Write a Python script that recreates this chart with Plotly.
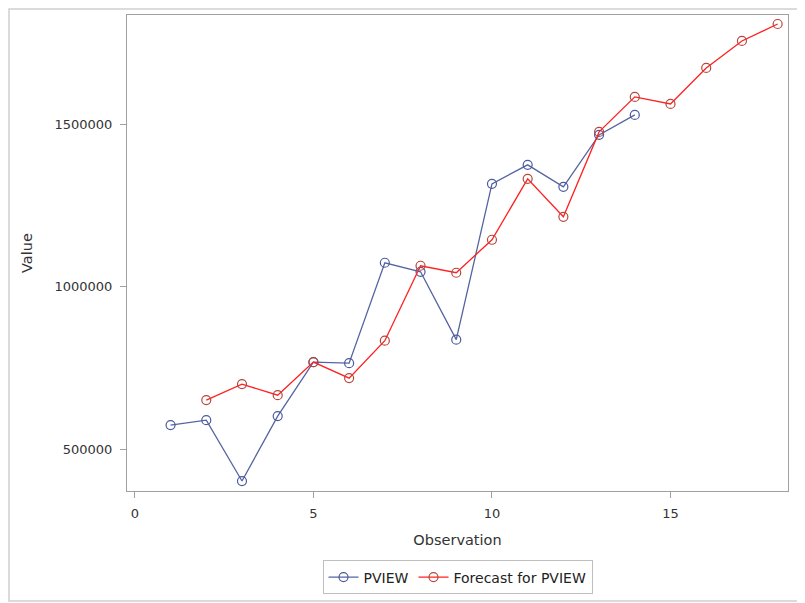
import plotly.graph_objects as go

obs_actual = list(range(1, 15))
pview = [574000, 589000, 401500, 601500, 767700, 764600, 1073800, 1046000,
         836900, 1316900, 1375400, 1307700, 1467700, 1529200]

obs_fc = list(range(2, 19))
forecast = [650800, 700000, 666000, 767700, 718500, 833800, 1064600, 1043000,
            1144600, 1332300, 1215400, 1476900, 1584600, 1563000, 1673800,
            1756900, 1809200]

x_ticks = [0, 5, 10, 15]
y_ticks = [500000, 1000000, 1500000]

font = "DejaVu Sans, Liberation Sans, sans-serif"

fig = go.Figure()
fig.add_trace(go.Scatter(
    x=obs_actual, y=pview, name="PVIEW", mode="lines+markers",
    line=dict(color="#5564A0", width=1.3),
    marker=dict(symbol="circle-open", size=9, color="#4A5A9E", line=dict(width=1.2)),
))
fig.add_trace(go.Scatter(
    x=obs_fc, y=forecast, name="Forecast for PVIEW", mode="lines+markers",
    line=dict(color="#FF2020", width=1.3),
    marker=dict(symbol="circle-open", size=9, color="#B5473C", line=dict(width=1.2)),
))

axis_common = dict(
    showgrid=False, zeroline=False, showline=True, mirror=True,
    linecolor="#A0A0A0", linewidth=1, ticks="outside", ticklen=6,
    tickcolor="#A0A0A0", tickfont=dict(family=font, size=13, color="#333333"),
)

# page has an 8px body margin, so the figure is offset by 8px
W, H = 797, 595
fig.update_layout(
    width=W, height=H,
    margin=dict(l=119, r=17, t=7, b=112),
    paper_bgcolor="white", plot_bgcolor="white",
    font=dict(family=font, size=12, color="#333333"),
    xaxis=dict(axis_common, range=[-0.22, 18.29], tickvals=x_ticks,
               ticklabelstandoff=4,
               title=dict(text="Observation", font=dict(size=14.5, color="#333333"), standoff=15)),
    yaxis=dict(axis_common, range=[370800, 1836900], tickvals=y_ticks,
               ticktext=[str(v) for v in y_ticks], ticklabelstandoff=5,
               title=dict(text="Value", font=dict(size=14.5, color="#333333"), standoff=18)),
    showlegend=True,
    legend=dict(orientation="h", x=0.5, xanchor="center", y=-0.146, yanchor="top",
                bordercolor="#BFBFBF", borderwidth=1, bgcolor="white",
                font=dict(family=font, size=14, color="#222222")),
    shapes=[dict(type="rect", xref="paper", yref="paper",
                 x0=-119 / 661 + 1 / 661, x1=1 + 10 / 661,
                 y0=-110 / 476, y1=1 + 6 / 476,
                 line=dict(color="#D0D0D0", width=1.5), layer="below")],
)

fig.write_html("out.html")
